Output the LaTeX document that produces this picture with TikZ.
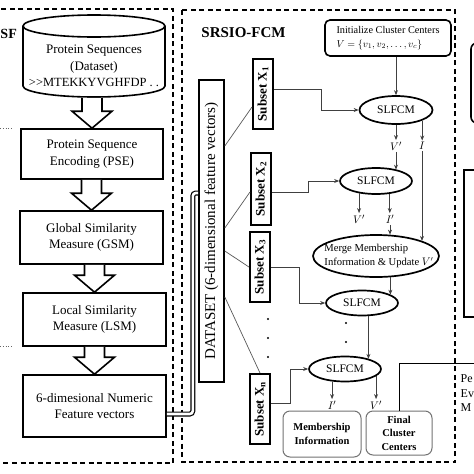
\documentclass[tikz,border=0pt]{standalone}
\usepackage{fontspec}
\setmainfont{Liberation Serif}
\usepackage{graphicx}
\usetikzlibrary{arrows.meta,calc,shapes.geometric}
\newcommand{\blkarrow}[2]{\draw[blockarr] let \p1=(#1), \p2=(#2) in (\x2-10pt,\y1) -- (\x2-10pt,\y2+17pt) -- (\x2-20pt,\y2+17pt) -- (\x2,\y2) -- (\x2+20pt,\y2+17pt) -- (\x2+10pt,\y2+17pt) -- (\x2+10pt,\y1);}
\begin{document}
\begin{tikzpicture}[x=1pt,y=-1pt,
  panel/.style={draw, line width=1.2pt, dash pattern=on 5pt off 3.5pt},
  flowbox/.style={draw, line width=1.6pt, fill=white, align=center, font=\fontsize{13}{16.5}\selectfont, inner sep=0pt},
  blockarr/.style={draw, line width=1.6pt, fill=white, line join=miter},
  subsetbox/.style={draw, line width=2pt, fill=white, minimum width=20pt, inner sep=0pt, font=\bfseries\fontsize{13}{15}\selectfont},
  ell/.style={draw, ellipse, line width=1.7pt, fill=white, inner sep=0pt, font=\fontsize{11.5}{13}\selectfont},
  conn/.style={draw=black!75, line width=0.8pt},
  arr/.style={conn, -{Stealth[length=5pt,width=4pt]}},
  lbl/.style={inner sep=1.5pt, font=\fontsize{11}{13}\selectfont},
  resbox/.style={draw=black!55, line width=1pt, rounded corners=7pt, align=center, font=\bfseries\fontsize{10.5}{13.5}\selectfont, inner sep=0pt},
  feed/.style={draw=black!65, line width=0.7pt},
  titletext/.style={font=\bfseries\fontsize{15}{18}\selectfont, inner sep=0pt},
  sidetext/.style={anchor=west, font=\fontsize{12}{14}\selectfont, inner sep=0pt}
]
\fill[white] (0,0) rectangle (474,474);
\useasboundingbox (0,0) rectangle (474,474);

% panels
\draw[panel] (-10,9) rectangle (173,463);
\draw[panel] (182,10) rectangle (455,462);
\node[titletext, anchor=west, font=\bfseries\fontsize{14}{17}\selectfont] (sf) at (0.3,34) {SF};
\node[titletext] (title) at (243.5,33) {SRSIO-FCM};

% left dotted stubs
\coordinate (ld1) at (0,128); \coordinate (ld1e) at (12,128);
\coordinate (ld2) at (0,346); \coordinate (ld2e) at (13,346);
\draw[dotted, line width=0.8pt, black!60] (ld1) -- (ld1e);
\draw[dotted, line width=0.8pt, black!60] (ld2) -- (ld2e);

% cylinder
\draw[line width=1.6pt, fill=white] (23,26) -- (23,86) arc[start angle=180, end angle=360, x radius=71pt, y radius=11pt] -- (165,26);
\draw[line width=1.6pt] (94,26) ellipse[x radius=71pt, y radius=11pt];
\coordinate (cylb) at (94,97.8);
\node[align=center, font=\fontsize{13}{16.5}\selectfont, inner sep=0pt] (cyltext) at (94,66) {Protein Sequences\\(Dataset)\\{\fontsize{12.5}{15}\selectfont >\kern0pt>MTEKKYVGHFDP . .}};

% left flow boxes
\node[flowbox, minimum width=142pt, minimum height=50pt] (pse) at (92,154) {Protein Sequence\\Encoding (PSE)};
\node[flowbox, minimum width=143pt, minimum height=53pt] (gsm) at (91.5,237.5) {Global Similarity\\Measure (GSM)};
\node[flowbox, minimum width=143pt, minimum height=53pt] (lsm) at (94.5,319.5) {Local Similarity\\Measure (LSM)};
\node[flowbox, minimum width=143pt, minimum height=62pt] (sixd) at (94.5,406) {6-dimesional Numeric\\Feature vectors};

\blkarrow{cylb}{pse.north}
\blkarrow{pse.south}{gsm.north}
\blkarrow{gsm.south}{lsm.north}
\blkarrow{lsm.south}{sixd.north}

% dataset and subsets
\node[draw, line width=1.6pt, fill=white, minimum width=25pt, minimum height=302pt, inner sep=0pt] (ds) at (211.5,231) {\rotatebox{90}{\fontsize{15}{18}\selectfont DATASET (6-dimensional feature vectors)}};
\node[subsetbox, minimum height=70pt] (x1) at (263,94) {\rotatebox{90}{Subset X\textsubscript{1}}};
\node[subsetbox, minimum height=72pt] (x2) at (261,189) {\rotatebox{90}{Subset X\textsubscript{2}}};
\node[subsetbox, minimum height=70pt] (x3) at (260,267) {\rotatebox{90}{Subset X\textsubscript{3}}};
\node[subsetbox, minimum height=70pt] (xn) at (260,409) {\rotatebox{90}{Subset X\textsubscript{n}}};

\draw[double, line width=1.2pt, double distance=2.6pt, rounded corners=3pt] ([yshift=-8pt]sixd.east) -- ++(26,0) |- ([yshift=38pt]ds.west);

\draw[feed] ([yshift=85pt]ds.east) -- ([yshift=-13pt]x1.west);
\draw[feed] ([yshift=3pt]ds.east) -- ([yshift=-3pt]x2.west);
\draw[feed] ([yshift=-20pt]ds.east) -- (x3.west);
\draw[feed] ([yshift=-66pt]ds.east) -- (xn.north);

% dots
\fill (268,319) circle[radius=1.1pt];
\fill (268,338) circle[radius=1.1pt];
\fill (268,357) circle[radius=1.1pt];
\fill (346,323) circle[radius=1.1pt];
\fill (346,342) circle[radius=1.1pt];

% init box
\node[draw, line width=1.6pt, rounded corners=5pt, minimum width=126pt, minimum height=36pt, align=left, font=\fontsize{10.3}{13.5}\selectfont, inner sep=0pt] (init) at (388,38) {Initialize Cluster Centers\\$V=\{v_1,v_2,\ldots,v_c\}$};

% ellipses
\node[ell, minimum width=73pt, minimum height=28pt] (s1) at (396,110) {SLFCM};
\node[ell, minimum width=72pt, minimum height=26pt] (s2) at (376,181) {SLFCM};
\node[ell, minimum width=126pt, minimum height=42pt] (mrg) at (376,256) {};
\node[align=left, font=\fontsize{10.6}{14}\selectfont, inner sep=0pt] (mrgtxt) at (379,256) {Merge Membership\\Information \& Update $V'$};
\node[ell, minimum width=72pt, minimum height=25pt] (s3) at (362,303) {SLFCM};
\node[ell, minimum width=72pt, minimum height=25pt] (s4) at (345,369) {SLFCM};

% labels
\node[lbl] (v1) at (396,146) {$V'$};
\node[lbl] (i1) at (422,146) {$I$};
\node[lbl] (v2) at (359,219) {$V'$};
\node[lbl] (i2) at (390,219) {$I'$};
\node[lbl] (i4) at (332,405) {$I'$};
\node[lbl] (v4) at (376,405) {$V'$};

% connectors
\draw[arr] (init.south -| s1.north) -- (s1.north);
\draw[arr] ([yshift=5pt]x1.east) -- ++(47,0) |- (s1.west);
\draw[arr] (s1.south) -- (v1.north);
\draw[arr] (s1.-22) -- (s1.-22 |- i1.north);
\draw[arr] (v1.south) -- (v1.south |- s2.28);
\draw[arr] ([yshift=-3pt]x2.east) -- ++(36,0) |- (s2.west);
\draw[arr] (s2.216) -- (s2.216 |- v2.north);
\draw[arr] (s2.-43) -- (s2.-43 |- i2.north);
\draw[arr] (i2.south) -- (i2.south |- mrg.58);
\draw[arr] (i1.south) -- (i1.south |- mrg.18);
\draw[arr] (mrg.-56) -- (mrg.-56 |- s3.16);
\draw[arr] (x3.east) -- ++(28,0) |- (s3.west);
\draw[arr] (s3.-64) -- (s3.-64 |- s4.23);
\draw[arr] ([yshift=6pt]xn.east) -- ++(19,0) |- (s4.west);
\draw[arr] (s4.224) -- (s4.224 |- i4.north);
\draw[arr] (s4.-13) -- (s4.-13 |- v4.north);

% result boxes
\node[resbox, minimum width=78pt, minimum height=46pt] (mem) at (322,434) {Membership\\Information};
\node[resbox, minimum width=66pt, minimum height=44pt] (fcc) at (399,433) {Final\\Cluster\\Centers};
\coordinate (offr) at (485,363);
\draw[line width=0.9pt] (fcc.north) |- (offr);

% right panel (clipped)
\node[draw, line width=1.6pt, rounded corners=6pt, minimum width=30pt, minimum height=80pt, inner sep=0pt] (rbox1) at (486,83) {};
\node[draw, line width=1.8pt, minimum width=34pt, minimum height=147pt, inner sep=0pt] (rbox2) at (481,243.5) {};
\node[sidetext] (pe) at (460.5,379) {Pe};
\node[sidetext] (ev) at (460.5,394) {Ev};
\node[sidetext] (mm) at (460.5,408) {M};
\end{tikzpicture}
\end{document}
